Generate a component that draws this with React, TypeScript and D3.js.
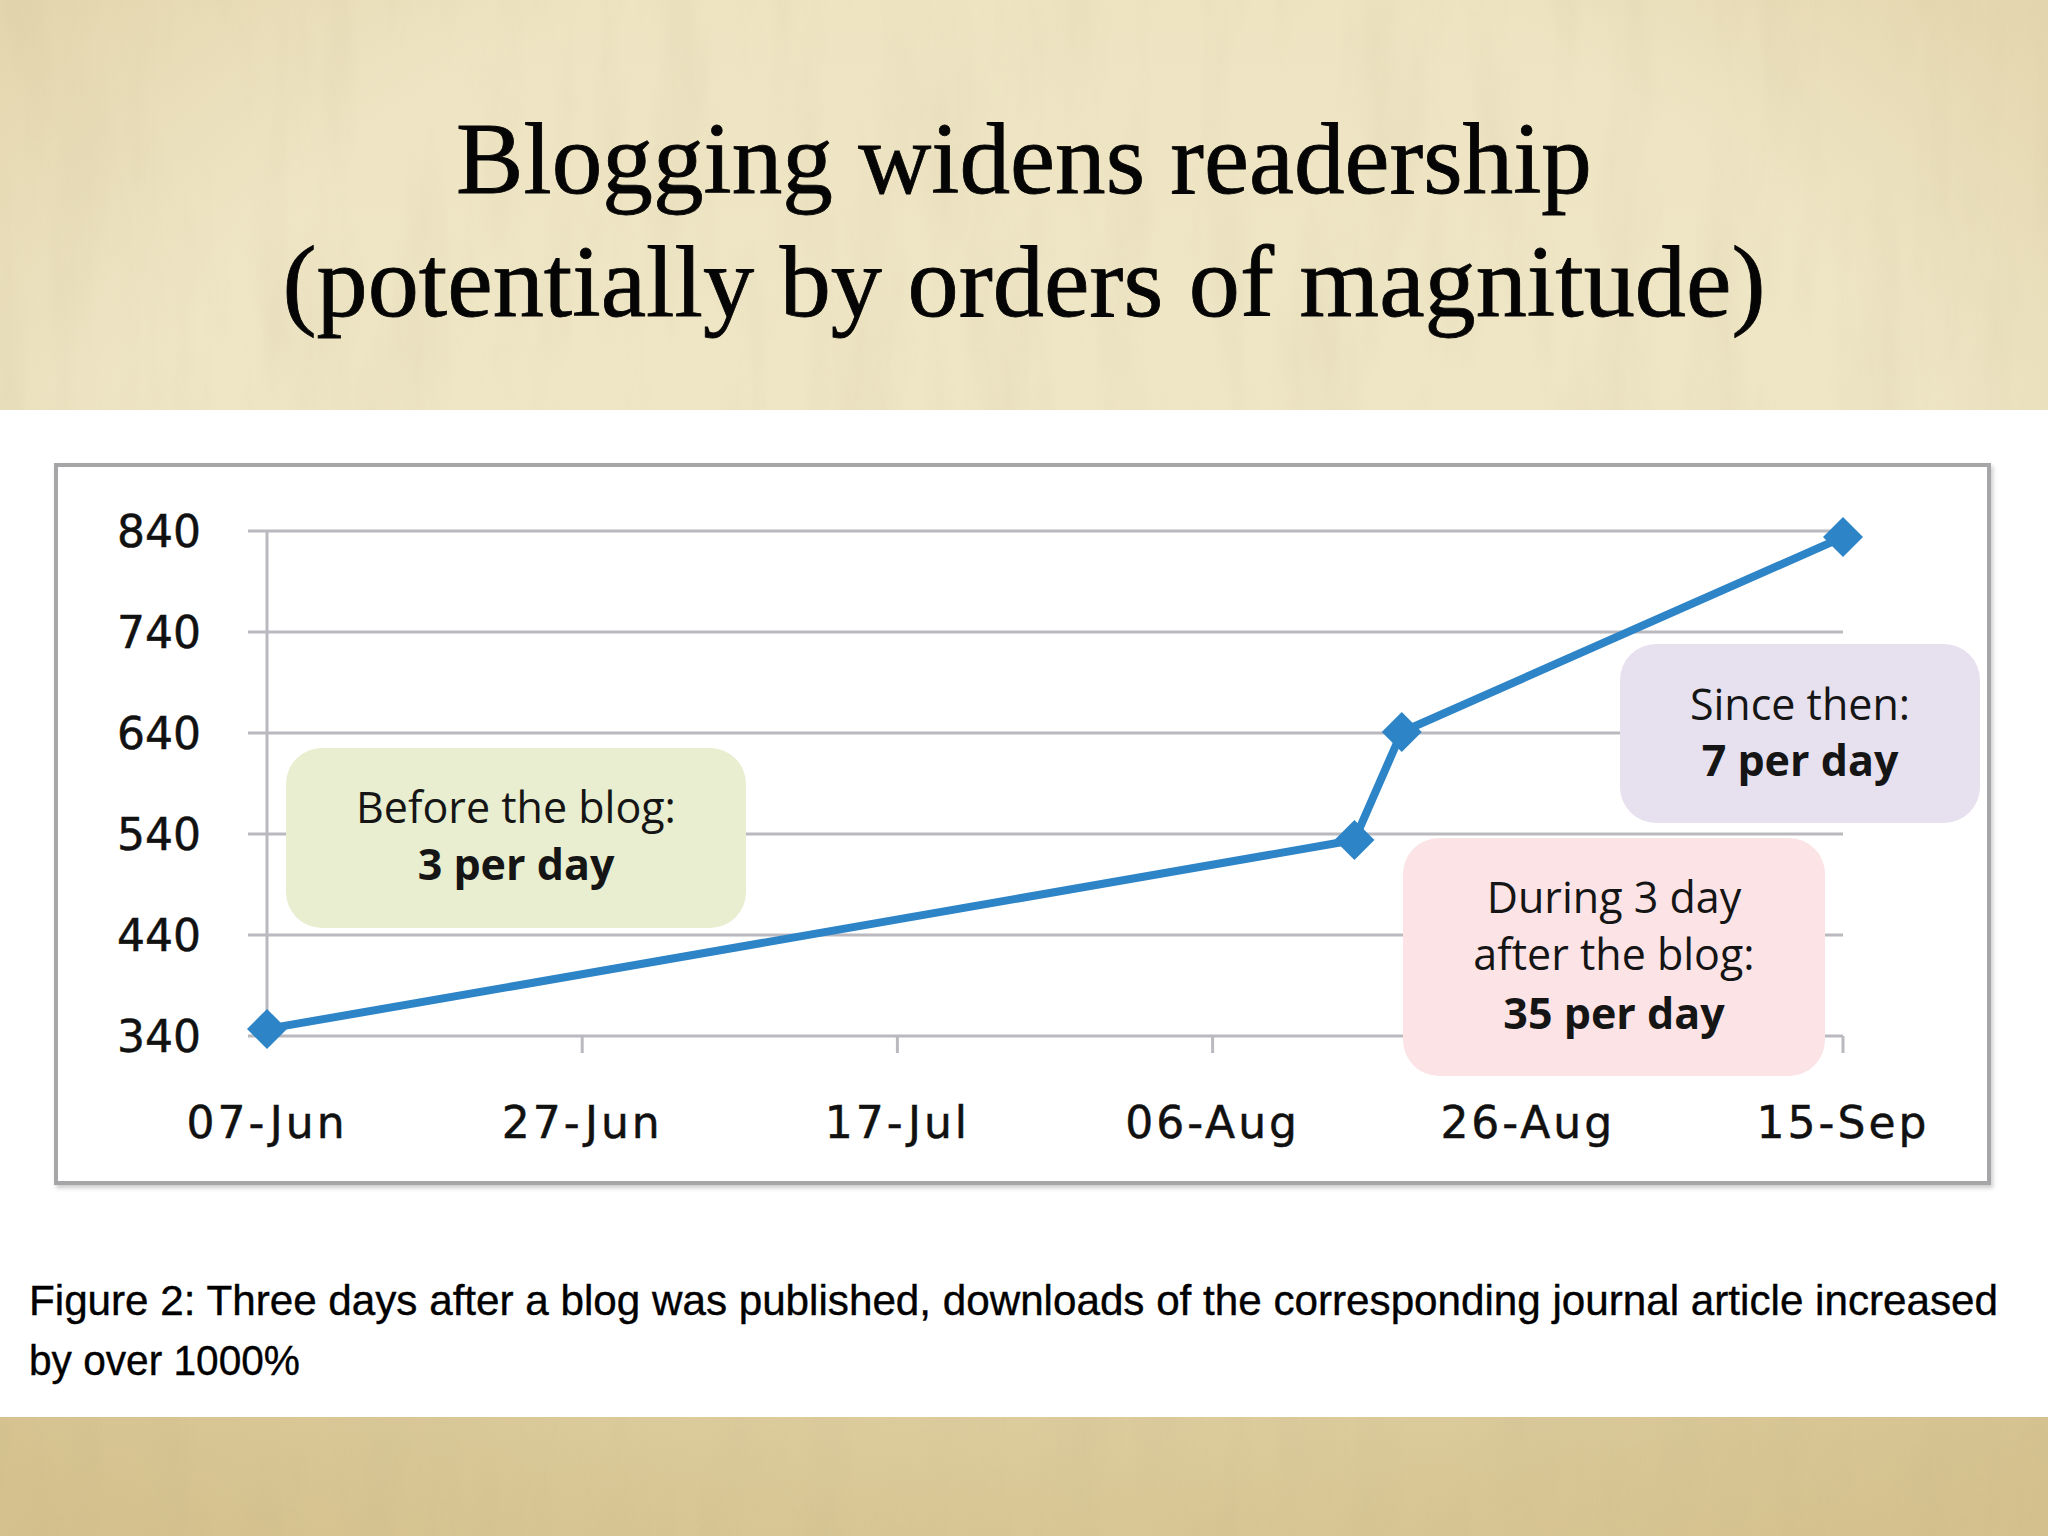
import React from "react";
import * as d3 from "d3";

// data
const pointDates = ["2010-06-07", "2010-08-15", "2010-08-18", "2010-09-15"];
const downloads = [347, 534, 641, 834];

const yTicks = [340, 440, 540, 640, 740, 840];
const xTickDates = ["2010-06-07", "2010-06-27", "2010-07-17", "2010-08-06", "2010-08-26", "2010-09-15"];
const xTickLabels = ["07-Jun", "27-Jun", "17-Jul", "06-Aug", "26-Aug", "15-Sep"];

const titleLines = ["Blogging widens readership", "(potentially by orders of magnitude)"];
const captionLines = [
  "Figure 2: Three days after a blog was published, downloads of the corresponding journal article increased",
  "by over 1000%",
];

const beforeNote = ["Before the blog:", "3 per day"];
const duringNote = ["During 3 day", "after the blog:", "35 per day"];
const sinceNote = ["Since then:", "7 per day"];

const W = 2048;
const H = 1536;
const plot = { left: 267, right: 1843, top: 531, bottom: 1036 };

const parse = d3.utcParse("%Y-%m-%d");

const sans = "'DejaVu Sans', Verdana, sans-serif";
const noteFont = "'Open Sans', 'Noto Sans', sans-serif";

function Note({ x, y, w, h, fill, lines, cx, baselines }: {
  x: number; y: number; w: number; h: number; fill: string;
  lines: string[]; cx: number; baselines: number[];
}) {
  return (
    <g>
      <rect x={x} y={y} width={w} height={h} rx={36} fill={fill} />
      {lines.map((t, i) => (
        <text
          key={t}
          x={cx}
          y={baselines[i]}
          textAnchor="middle"
          fontFamily={noteFont}
          fontSize={43}
          fontWeight={i === lines.length - 1 ? 700 : 400}
          fill="#151515"
        >
          {t}
        </text>
      ))}
    </g>
  );
}

export default function App() {
  const x = d3.scaleUtc()
    .domain([parse(xTickDates[0])!, parse(xTickDates[xTickDates.length - 1])!])
    .range([plot.left, plot.right]);
  const y = d3.scaleLinear().domain([340, 840]).range([plot.bottom, plot.top]);

  const pts = pointDates.map((d, i) => ({ date: parse(d)!, v: downloads[i] }));
  const line = d3.line<{ date: Date; v: number }>()
    .x(d => x(d.date))
    .y(d => y(d.v));

  const diamond = d3.symbol().type(d3.symbolSquare).size(800)() || "";

  return (
    <svg
      width={W}
      height={H}
      style={{ position: "absolute", left: 0, top: 0 }}
    >
      <defs>
        <linearGradient id="paper" x1="0" x2="0" y1="0" y2="1">
          <stop offset="0%" stopColor="#eee4c2" />
          <stop offset="25%" stopColor="#efe6c6" />
          <stop offset="100%" stopColor="#ddcc9c" />
        </linearGradient>
        <radialGradient id="vignette" cx="50%" cy="40%" r="75%">
          <stop offset="60%" stopColor="#c8b27a" stopOpacity={0} />
          <stop offset="100%" stopColor="#c8b27a" stopOpacity={0.45} />
        </radialGradient>
        <filter id="grain" x="0" y="0" width="100%" height="100%">
          <feTurbulence type="fractalNoise" baseFrequency="0.02 0.004" numOctaves={4} seed={7} />
          <feColorMatrix type="matrix" values="0 0 0 0 0.5  0 0 0 0 0.42  0 0 0 0 0.25  0 0 0 1.2 -0.5" />
        </filter>
        <filter id="frameShadow" x="-5%" y="-5%" width="110%" height="110%">
          <feDropShadow dx={2} dy={3} stdDeviation={2} floodColor="#000" floodOpacity={0.2} />
        </filter>
      </defs>

      {/* parchment background */}
      <rect width={W} height={H} fill="url(#paper)" />
      <rect width={W} height={H} fill="url(#vignette)" />
      <rect width={W} height={H} filter="url(#grain)" opacity={0.18} />

      {/* title */}
      {titleLines.map((t, i) => (
        <text
          key={t}
          x={1024}
          y={i === 0 ? 193 : 316}
          textAnchor="middle"
          fontFamily="'Liberation Serif', 'DejaVu Serif', serif"
          fontSize={102}
          textLength={i === 0 ? 1136 : 1483}
          lengthAdjust="spacingAndGlyphs"
          fill="#050505"
          stroke="#050505"
          strokeWidth={0.8}
        >
          {t}
        </text>
      ))}

      {/* white figure band */}
      <rect x={0} y={410} width={W} height={1007} fill="#ffffff" />

      {/* chart frame */}
      <rect x={56} y={465} width={1933} height={718} fill="#ffffff" stroke="#a6a6a8" strokeWidth={4} filter="url(#frameShadow)" />

      {/* gridlines + y labels */}
      {yTicks.map(t => (
        <g key={t}>
          <line x1={plot.left - 19} x2={plot.right} y1={y(t)} y2={y(t)} stroke="#b9b9bf" strokeWidth={3} />
          <text
            x={201}
            y={y(t)}
            dy="0.36em"
            textAnchor="end"
            fontFamily={sans}
            fontSize={44}
            fill="#111"
            stroke="#111"
            strokeWidth={0.5}
          >
            {t}
          </text>
        </g>
      ))}

      {/* y axis line */}
      <line x1={plot.left} x2={plot.left} y1={plot.top} y2={plot.bottom} stroke="#b9b9bf" strokeWidth={3} />

      {/* x ticks + labels */}
      {xTickDates.map((d, i) => {
        const px = x(parse(d)!);
        return (
          <g key={d}>
            {i > 0 && (
              <line x1={px} x2={px} y1={plot.bottom} y2={plot.bottom + 17} stroke="#b9b9bf" strokeWidth={3} />
            )}
            <text
              x={px}
              y={1138}
              textAnchor="middle"
              fontFamily={sans}
              fontSize={44}
              letterSpacing={3}
              fill="#111"
              stroke="#111"
              strokeWidth={0.5}
            >
              {xTickLabels[i]}
            </text>
          </g>
        );
      })}

      {/* annotation boxes */}
      <Note x={286} y={748} w={460} h={180} fill="#e8eecf" lines={beforeNote} cx={516} baselines={[823, 880]} />
      <Note x={1403} y={838} w={422} h={238} fill="#fbe3e6" lines={duringNote} cx={1614} baselines={[913, 970, 1029]} />
      <Note x={1620} y={644} w={360} h={179} fill="#e7e1ef" lines={sinceNote} cx={1800} baselines={[720, 776]} />

      {/* downloads line */}
      <path d={line(pts) || ""} fill="none" stroke="#2d84c7" strokeWidth={8} strokeLinejoin="round" />
      {pts.map(p => (
        <path
          key={p.date.toISOString()}
          d={diamond}
          transform={`translate(${x(p.date)},${y(p.v)}) rotate(45)`}
          fill="#2d84c7"
        />
      ))}

      {/* caption */}
      {captionLines.map((t, i) => (
        <text
          key={t}
          x={29}
          y={i === 0 ? 1315 : 1375}
          fontFamily="'Liberation Sans Narrow', 'Liberation Sans', sans-serif"
          fontSize={43}
          textLength={i === 0 ? 1969 : 271}
          lengthAdjust="spacingAndGlyphs"
          fill="#000"
          stroke="#000"
          strokeWidth={0.4}
        >
          {t}
        </text>
      ))}
    </svg>
  );
}
